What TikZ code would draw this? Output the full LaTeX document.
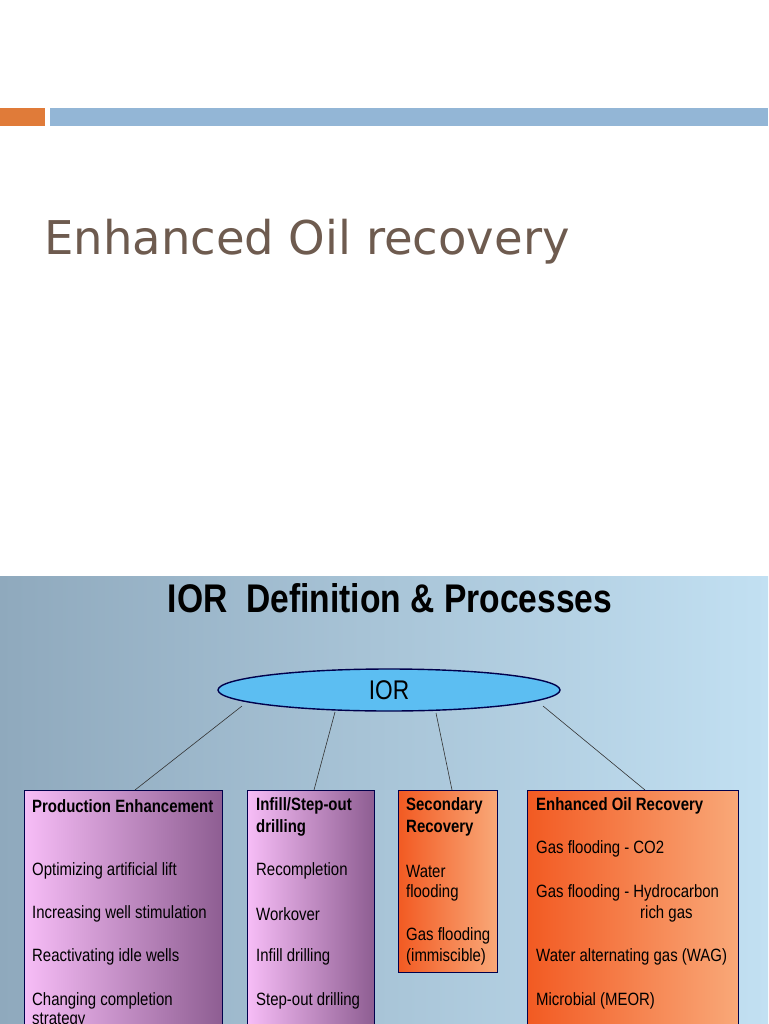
\documentclass[tikz,border=0pt]{standalone}
\usepackage{fontspec}
\setmainfont{DejaVu Sans}
\newfontfamily\narrowf[FakeStretch=0.84]{Liberation Sans}
\newfontfamily\narrowb[FakeStretch=0.84]{Liberation Sans Bold}
\usetikzlibrary{shapes.geometric}
\definecolor{obar}{HTML}{E07B39}
\definecolor{bbar}{HTML}{93B6D6}
\definecolor{ttl}{HTML}{6E5B4F}
\definecolor{bgl}{HTML}{8FA9BD}
\definecolor{bgr}{HTML}{C2E0F2}
\definecolor{pinkl}{HTML}{F7BDF7}
\definecolor{pinkr}{HTML}{8E5E92}
\definecolor{orl}{HTML}{F25A22}
\definecolor{orr}{HTML}{F9A878}
\definecolor{ellc}{HTML}{5CBEF2}
\tikzset{
 boxp/.style={draw=black!70!blue, line width=0.8pt, left color=pinkl, right color=pinkr},
 boxo/.style={draw=black!70!blue, line width=0.8pt, left color=orl, right color=orr},
 txt/.style={anchor=west, font=\narrowf\fontsize{17.8}{18}\selectfont, inner sep=0pt},
 hd/.style={anchor=west, font=\narrowb\fontsize{17.8}{18}\selectfont, inner sep=0pt},
 link/.style={draw=black!80, line width=0.6pt}
}
\begin{document}
\begin{tikzpicture}[x=1pt,y=-1pt]
\useasboundingbox (0,0) rectangle (768,1024);
\clip (0,0) rectangle (768,1024);
\fill[white] (0,0) rectangle (768,1024);
\fill[obar] (0,108) rectangle (45,126);
\fill[bbar] (50,108) rectangle (768,126);
\node[anchor=base west, inner sep=0pt, text=ttl, font=\fontsize{46.5}{46.5}\selectfont] (t) at (44,254) {Enhanced Oil recovery};
\shade[left color=bgl, right color=bgr] (0,576) rectangle (768,1024);
\node[font=\narrowb\fontsize{40}{40}\selectfont, inner sep=0pt, xscale=1.0] (h) at (390,598) {IOR\ \ Definition \& Processes};
\node[ellipse, draw=black!70!blue, line width=1.4pt, fill=ellc, minimum width=342pt, minimum height=42pt, inner sep=0pt, font=\narrowf\fontsize{27}{27}\selectfont] (ior) at (389,690) {IOR};
\path[boxp] (24,790) rectangle (222,1030);
\path[boxp] (247,790) rectangle (374,1030);
\path[boxo] (398,790) rectangle (497,972);
\path[boxo] (527,790) rectangle (738,1030);
\coordinate (a1) at (242,706);
\coordinate (a2) at (335,712);
\coordinate (a3) at (436,713);
\coordinate (a4) at (543,706);
\coordinate (b1) at (135,790);
\coordinate (b2) at (314,790);
\coordinate (b3) at (452,790);
\coordinate (b4) at (645,790);
\draw[link] (a1) -- (b1);
\draw[link] (a2) -- (b2);
\draw[link] (a3) -- (b3);
\draw[link] (a4) -- (b4);
\node[hd] (p0) at (32,806) {Production Enhancement};
\node[txt] (p1) at (32,871) {Optimizing artificial lift};
\node[txt] (p2) at (32,914) {Increasing well stimulation};
\node[txt] (p3) at (32,957) {Reactivating idle wells};
\node[txt] (p4) at (32,1001) {Changing completion};
\node[txt] (p5) at (32,1021) {strategy};
\node[hd] (i0) at (256,806) {Infill/Step-out};
\node[hd] (i0b) at (256,828) {drilling};
\node[txt] (i1) at (256,871) {Recompletion};
\node[txt] (i2) at (256,914) {Workover};
\node[txt] (i3) at (256,957) {Infill drilling};
\node[txt] (i4) at (256,1001) {Step-out drilling};
\node[hd] (s0) at (406,806) {Secondary};
\node[hd] (s0b) at (406,828) {Recovery};
\node[txt] (s1) at (406,871) {Water};
\node[txt] (s1b) at (406,893) {flooding};
\node[txt] (s2) at (406,936) {Gas flooding};
\node[txt] (s2b) at (406,957) {(immiscible)};
\node[hd] (e0) at (536,806) {Enhanced Oil Recovery};
\node[txt] (e1) at (536,849) {Gas flooding - CO2};
\node[txt] (e2) at (536,893) {Gas flooding - Hydrocarbon};
\node[txt] (e2b) at (640,914) {rich gas};
\node[txt] (e3) at (536,957) {Water alternating gas (WAG)};
\node[txt] (e4) at (536,1001) {Microbial (MEOR)};
\end{tikzpicture}
\end{document}
